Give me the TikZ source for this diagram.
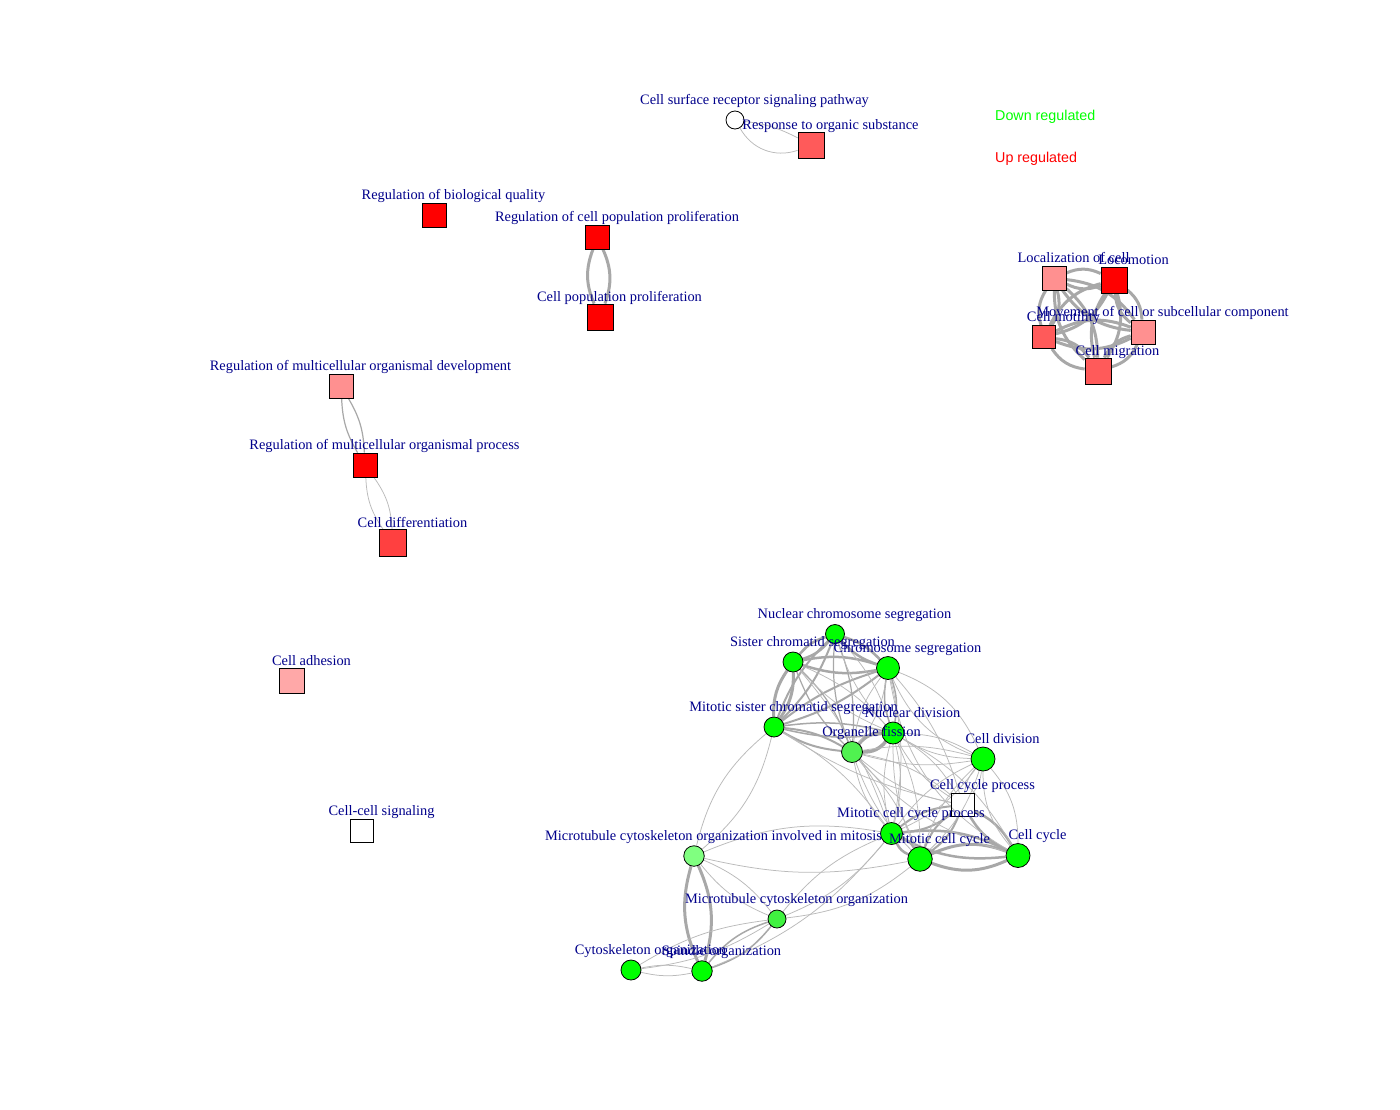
\documentclass[tikz,border=0pt]{standalone}
\usepackage{fontspec}
\setmainfont{Liberation Serif}
\newfontfamily\sansf{Liberation Sans}
\usetikzlibrary{backgrounds,calc}
\definecolor{labblue}{RGB}{0,0,139}
\definecolor{edgeg}{RGB}{168,168,168}
\definecolor{edgel}{RGB}{186,186,186}
\definecolor{rA}{RGB}{255,90,90}
\definecolor{rB}{RGB}{255,64,64}
\definecolor{rC}{RGB}{255,144,144}
\definecolor{rD}{RGB}{255,168,168}
\definecolor{gA}{RGB}{0,255,0}
\definecolor{gOF}{RGB}{80,242,80}
\definecolor{gMTI}{RGB}{128,255,128}
\definecolor{gMTO}{RGB}{64,242,64}
\definecolor{legG}{RGB}{0,255,0}
\definecolor{legR}{RGB}{255,0,0}
\newcommand\lens[4][15]{%
  \draw[lnk,line width=#4pt] (#2) to[bend left=#1] (#3);
  \draw[lnk,line width=#4pt] (#2) to[bend right=#1] (#3);}
\newcommand\lenst[3][15]{%
  \draw[lnkt] (#2) to[bend left=#1] (#3);
  \draw[lnkt] (#2) to[bend right=#1] (#3);}
\newcommand\arct[3][15]{\draw[lnkt] (#2) to[bend left=#1] (#3);}
\begin{document}
\begin{tikzpicture}[x=1pt,y=-1pt,
  sq/.style={rectangle,draw=black,line width=0.8pt,minimum size=#1,inner sep=0pt},
  cir/.style={circle,draw=black,line width=0.8pt,minimum size=#1,inner sep=0pt},
  lab/.style={font=\fontsize{14.4}{16}\selectfont,text=labblue,anchor=base,inner sep=0pt},
  leg/.style={font=\sansf\fontsize{14.3}{16}\selectfont,anchor=base west,inner sep=0pt},
  lnk/.style={draw=edgeg},
  lnkt/.style={draw=edgel,line width=0.75pt}]
\useasboundingbox (0,0) rectangle (1400,1109);

% ---- nodes ----
\node[cir=18,fill=white] (CSR) at (735,120) {};
\node[sq=26,fill=rA] (ROS) at (811,145) {};
\node[sq=24,fill=red] (RBQ) at (434,215) {};
\node[sq=24,fill=red] (RCPP) at (597.5,237) {};
\node[sq=26,fill=red] (CPP) at (600,317) {};
\node[sq=24,fill=rC] (RMOD) at (341,386) {};
\node[sq=24,fill=red] (RMOP) at (365,465) {};
\node[sq=27,fill=rB] (CDIF) at (393,543) {};
\node[sq=25,fill=rD] (CAD) at (292,681) {};
\node[sq=23,fill=white] (CCS) at (362,831) {};
\node[sq=24,fill=rC] (LOC) at (1054,278) {};
\node[sq=26,fill=red] (LOCO) at (1114,280) {};
\node[sq=24,fill=rC] (MOV) at (1143,332) {};
\node[sq=23,fill=rA] (CMOT) at (1044,337) {};
\node[sq=26,fill=rA] (CMIG) at (1098,371) {};
\node[sq=23] (CCP) at (963,805) {};
\node[cir=19,fill=gA] (NCS) at (835,634) {};
\node[cir=20,fill=gA] (SCS) at (793,662) {};
\node[cir=23,fill=gA] (CS) at (888,668) {};
\node[cir=20,fill=gA] (MSCS) at (774,727) {};
\node[cir=22,fill=gA] (ND) at (893,733) {};
\node[cir=21,fill=gOF] (OF) at (852,752) {};
\node[cir=24,fill=gA] (CD) at (983,759) {};
\node[cir=22,fill=gA] (MCCP) at (891.5,833.5) {};
\node[cir=24.5,fill=gA] (MCC) at (920,859) {};
\node[cir=24,fill=gA] (CC) at (1018,855.5) {};
\node[cir=20.5,fill=gMTI] (MTI) at (694,856) {};
\node[cir=18,fill=gMTO] (MTO) at (777,919) {};
\node[cir=20,fill=gA] (CO) at (631,970) {};
\node[cir=20.5,fill=gA] (SO) at (702,971) {};

% ---- labels ----
\newcommand\lb[2]{\node[lab] (#1-l) at ([shift={(19.5pt,15.8pt)}]#1.center) {#2};}
\lb{CSR}{Cell surface receptor signaling pathway}
\lb{ROS}{Response to organic substance}
\lb{RBQ}{Regulation of biological quality}
\lb{RCPP}{Regulation of cell population proliferation}
\lb{CPP}{Cell population proliferation}
\lb{RMOD}{Regulation of multicellular organismal development}
\lb{RMOP}{Regulation of multicellular organismal process}
\lb{CDIF}{Cell differentiation}
\lb{CAD}{Cell adhesion}
\lb{CCS}{Cell-cell signaling}
\lb{LOC}{Localization of cell}
\lb{LOCO}{Locomotion}
\lb{MOV}{Movement of cell or subcellular component}
\lb{CMOT}{Cell motility}
\lb{CMIG}{Cell migration}
\lb{CCP}{Cell cycle process}
\lb{NCS}{Nuclear chromosome segregation}
\lb{SCS}{Sister chromatid segregation}
\lb{CS}{Chromosome segregation}
\lb{MSCS}{Mitotic sister chromatid segregation}
\lb{ND}{Nuclear division}
\lb{OF}{Organelle fission}
\lb{CD}{Cell division}
\lb{MCCP}{Mitotic cell cycle process}
\lb{MCC}{Mitotic cell cycle}
\lb{CC}{Cell cycle}
\lb{MTI}{Microtubule cytoskeleton organization involved in mitosis}
\lb{MTO}{Microtubule cytoskeleton organization}
\lb{CO}{Cytoskeleton organization}
\lb{SO}{Spindle organization}

\node[leg,text=legG] (legdown) at (995,120) {Down regulated};
\node[leg,text=legR] (legup) at (995,162) {Up regulated};

% ---- edges ----
\begin{pgfonlayer}{background}
\fill[white] (0,0) rectangle (1400,1109);
\draw[lnkt] (CSR) to[bend right=40] (ROS);
\draw[lnkt] (CSR) to[bend left=10] (ROS);
\lens[22]{RCPP}{CPP}{3}
\lens[14]{RMOD}{RMOP}{1.2}
\lenst[16]{RMOP}{CDIF}
% locomotion cluster
\lens[24]{LOC}{LOCO}{3}
\lens[24]{LOC}{MOV}{3}
\lens[24]{LOC}{CMOT}{3}
\lens[24]{LOC}{CMIG}{3}
\lens[24]{LOCO}{MOV}{3}
\lens[24]{LOCO}{CMOT}{3}
\lens[24]{LOCO}{CMIG}{3}
\lens[24]{MOV}{CMOT}{3}
\lens[24]{MOV}{CMIG}{3}
\lens[24]{CMOT}{CMIG}{3}
% chromosome segregation group
\lens[16]{NCS}{SCS}{2.5}
\lens[14]{NCS}{CS}{2.5}
\lens[14]{SCS}{CS}{2.5}
\lens[18]{SCS}{MSCS}{3}
\lens[12]{NCS}{MSCS}{2}
\lens[10]{CS}{MSCS}{2}
\lens[25]{OF}{ND}{3.5}
\lens[12]{MSCS}{OF}{2}
\lens[10]{MSCS}{ND}{1.5}
\lens[12]{SCS}{OF}{1.2}
\lenst[12]{SCS}{ND}
\lens[12]{NCS}{OF}{1.2}
\lenst[12]{NCS}{ND}
\lens[14]{CS}{ND}{1.5}
\lenst[14]{CS}{OF}
% cell cycle group
\lens[22]{MCC}{CC}{3}
\lens[16]{MCCP}{CC}{2.5}
\lens[20]{MCCP}{MCC}{2.5}
\lens[16]{CCP}{CC}{2.5}
\lens[16]{CCP}{MCC}{2}
\lens[16]{CCP}{MCCP}{2}
\lenst[20]{CD}{CC}
\lenst[16]{CD}{CCP}
\lenst[14]{CD}{MCC}
\lenst[14]{CD}{MCCP}
% cross links
\lenst[14]{ND}{CD}
\lenst[14]{ND}{CCP}
\lenst[14]{ND}{MCCP}
\lenst[12]{ND}{MCC}
\arct[15]{ND}{CC}
\lenst[12]{OF}{CD}
\lenst[14]{OF}{CCP}
\lenst[14]{OF}{MCCP}
\lenst[12]{OF}{MCC}
\arct[-15]{OF}{CC}
\lenst[22]{CS}{CD}
\arct[-25]{CS}{CC}
\arct[12]{CS}{CCP}
\arct[12]{CS}{MCCP}
\arct[12]{MSCS}{MCCP}
\arct[-10]{MSCS}{CCP}
\arct[10]{SCS}{MCCP}
% microtubule group
\lens[20]{MTI}{SO}{3}
\lens[16]{MTO}{SO}{1.5}
\lenst[14]{MTI}{MTO}
\lenst[12]{CO}{SO}
\lenst[12]{CO}{MTO}
\lenst[18]{MTI}{MSCS}
\lenst[14]{MTO}{MCCP}
\arct[-16]{MTO}{MCC}
\arct[-14]{SO}{MCCP}
\arct[16]{MTI}{MCCP}
\arct[-12]{MTI}{MCC}
\end{pgfonlayer}
\end{tikzpicture}
\end{document}
